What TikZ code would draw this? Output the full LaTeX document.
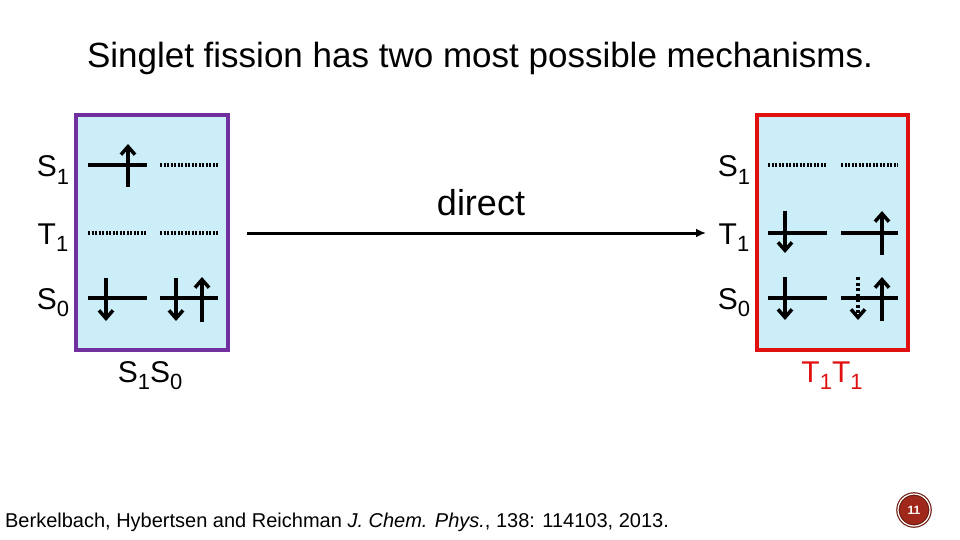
\documentclass[tikz,border=0pt]{standalone}
\usepackage{fontspec}
\setmainfont{Liberation Sans}
\usetikzlibrary{arrows.meta}
\definecolor{boxfill}{HTML}{CCEEF9}
\definecolor{purp}{HTML}{7030A0}
\definecolor{redb}{HTML}{E01010}
\definecolor{badge}{HTML}{A0281A}
\newcommand{\sbx}[1]{\raisebox{-0.45ex}{\fontsize{22}{22}\selectfont #1}}
\begin{document}
\begin{tikzpicture}[x=1pt,y=-1pt,
 lvl/.style={line width=3.5pt},
 emp/.style={line width=3.5pt,dash pattern=on 2pt off 1.5pt},
 spin/.style={line width=3.5pt,-{Straight Barb[length=8pt,width=14pt,line width=3.5pt]}},
 dspin/.style={spin,dash pattern=on 3pt off 2.5pt},
 lab/.style={font=\fontsize{30}{30}\selectfont}]
\useasboundingbox (0,0) rectangle (960,540);
\node[font=\fontsize{35}{35}\selectfont] (title) at (480,58) {Singlet fission has two most possible mechanisms.};
% left box
\node[draw=purp,line width=4pt,fill=boxfill,minimum width=152pt,minimum height=235pt,inner sep=0pt] (lb) at (152,232.5) {};
\node[lab] (lS1) at (53,170) {S\sbx{1}};
\node[lab] (lT1) at (53,238) {T\sbx{1}};
\node[lab] (lS0) at (53,303) {S\sbx{0}};
\coordinate (a1) at (88,165); \coordinate (a2) at (147,165);
\draw[lvl] (a1) -- (a2);
\coordinate (a3) at (160,165); \coordinate (a4) at (218,165);
\draw[emp] (a3) -- (a4);
\coordinate (b1) at (88,233); \coordinate (b2) at (147,233);
\draw[emp] (b1) -- (b2);
\coordinate (b3) at (160,233); \coordinate (b4) at (218,233);
\draw[emp] (b3) -- (b4);
\coordinate (c1) at (88,298); \coordinate (c2) at (147,298);
\draw[lvl] (c1) -- (c2);
\coordinate (c3) at (160,298); \coordinate (c4) at (218,298);
\draw[lvl] (c3) -- (c4);
\coordinate (u1s) at (128,187); \coordinate (u1e) at (128,144);
\draw[spin] (u1s) -- (u1e);
\coordinate (d1s) at (106,278); \coordinate (d1e) at (106,321);
\draw[spin] (d1s) -- (d1e);
\coordinate (d2s) at (176,278); \coordinate (d2e) at (176,321);
\draw[spin] (d2s) -- (d2e);
\coordinate (u2s) at (202,322); \coordinate (u2e) at (202,277);
\draw[spin] (u2s) -- (u2e);
\node[lab] (s1s0) at (150,376) {S\sbx{1}S\sbx{0}};
% right box
\node[draw=redb,line width=4pt,fill=boxfill,minimum width=151pt,minimum height=235pt,inner sep=0pt] (rb) at (832.5,232.5) {};
\node[lab] (rS1) at (734,170) {S\sbx{1}};
\node[lab] (rT1) at (734,238) {T\sbx{1}};
\node[lab] (rS0) at (734,303) {S\sbx{0}};
\coordinate (e1) at (768,165); \coordinate (e2) at (827,165);
\draw[emp] (e1) -- (e2);
\coordinate (e3) at (841,165); \coordinate (e4) at (898,165);
\draw[emp] (e3) -- (e4);
\coordinate (f1) at (768,233); \coordinate (f2) at (827,233);
\draw[lvl] (f1) -- (f2);
\coordinate (f3) at (841,233); \coordinate (f4) at (898,233);
\draw[lvl] (f3) -- (f4);
\coordinate (g1) at (768,298); \coordinate (g2) at (827,298);
\draw[lvl] (g1) -- (g2);
\coordinate (g3) at (841,298); \coordinate (g4) at (898,298);
\draw[lvl] (g3) -- (g4);
\coordinate (t1s) at (785,211); \coordinate (t1e) at (785,253);
\draw[spin] (t1s) -- (t1e);
\coordinate (t2s) at (882,255); \coordinate (t2e) at (882,211);
\draw[spin] (t2s) -- (t2e);
\coordinate (h1s) at (785,277); \coordinate (h1e) at (785,320);
\draw[spin] (h1s) -- (h1e);
\coordinate (h2s) at (858,277); \coordinate (h2e) at (858,320);
\draw[dspin] (h2s) -- (h2e);
\coordinate (h3s) at (882,321); \coordinate (h3e) at (882,277);
\draw[spin] (h3s) -- (h3e);
\node[lab,text=redb] (t1t1) at (832,376) {T\sbx{1}T\sbx{1}};
% main arrow
\coordinate (ms) at (247,233); \coordinate (me) at (706,233);
\draw[line width=3pt,-{Latex[length=10pt,width=9pt]}] (ms) -- (me);
\node[font=\fontsize{36}{36}\selectfont] (direct) at (481,203) {direct};
\node[font=\fontsize{20}{20}\selectfont] (cite) at (337,522) {Berkelbach, Hybertsen and Reichman \textit{J. Chem. Phys.}, 138: 114103, 2013.};
\node[circle,fill=badge,draw=badge!70!black,double=white,double distance=1.2pt,line width=1.2pt,minimum size=32pt,inner sep=0pt,text=white,font=\bfseries\fontsize{12}{12}\selectfont] (pg) at (914,510) {11};
\end{tikzpicture}
\end{document}
